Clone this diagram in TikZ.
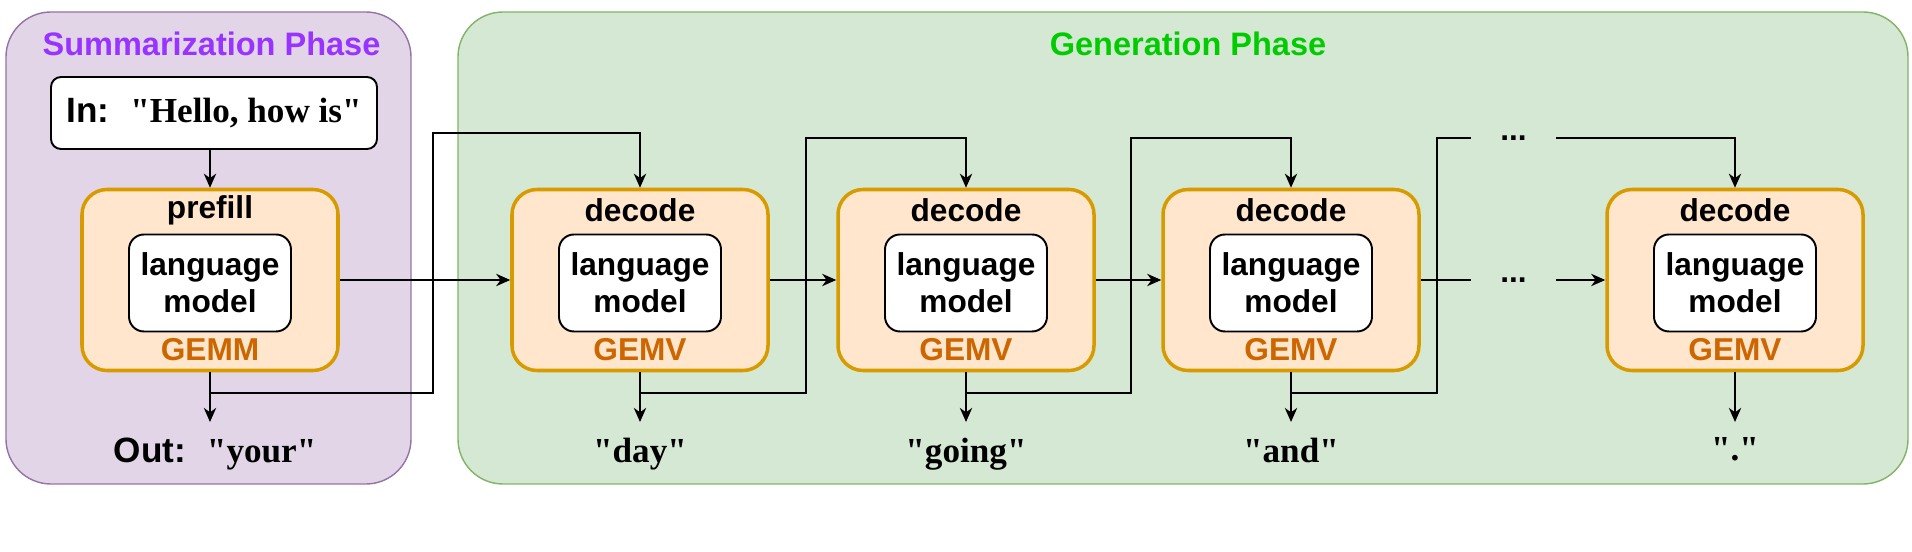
\documentclass[tikz,border=0pt]{standalone}
\usepackage{fontspec}
\setmainfont{Liberation Serif}[Ligatures=TeXOff]
\setsansfont{Liberation Sans}
\usetikzlibrary{arrows.meta}

\definecolor{sumfill}{HTML}{E1D5E7}
\definecolor{sumline}{HTML}{9673A6}
\definecolor{sumtitle}{HTML}{9933FF}
\definecolor{genfill}{HTML}{D5E8D4}
\definecolor{genline}{HTML}{82B366}
\definecolor{gentitle}{HTML}{00CC00}
\definecolor{boxfill}{HTML}{FFE6CC}
\definecolor{boxline}{HTML}{D79B00}
\definecolor{gemv}{HTML}{CC6600}

\begin{document}
\begin{tikzpicture}[->,>={Stealth[length=8pt,width=7pt,inset=2.5pt]},line width=1.1pt]
    \tikzstyle{phase}=[draw,rounded corners=0.9cm,line width=0.8pt,minimum height=9.44cm,inner sep=0pt]
    \tikzstyle{phase title}=[font=\sffamily\bfseries\fontsize{18.5}{22}\selectfont]
    \tikzstyle{stage box}=[draw=boxline,fill=boxfill,rounded corners=0.5cm,line width=2pt,minimum width=5.12cm,minimum height=3.62cm]
    \tikzstyle{stage text}=[font=\sffamily\bfseries\fontsize{18}{21}\selectfont,inner sep=0pt]
    \tikzstyle{model}=[stage text,draw,fill=white,rounded corners=0.3cm,line width=1.1pt,minimum width=3.24cm,minimum height=1.94cm,align=center]
    \tikzstyle{word}=[font=\bfseries\fontsize{20}{24}\selectfont,inner ysep=0.3cm,anchor=north]
    \tikzstyle{dots}=[stage text,minimum width=1.66cm]

    \useasboundingbox (0,0) rectangle (38.24,-11.04);

    % Draw the two phases
    \node[phase,fill=sumfill,draw=sumline,minimum width=8.1cm] (sum) at (4.17,-4.96) {};
    \node[phase,fill=genfill,draw=genline,minimum width=29cm] (gen) at (23.66,-4.96) {};
    \node[phase title,text=sumtitle] (sum-t) at (4.23,-0.88) {Summarization Phase};
    \node[phase title,text=gentitle] (gen-t) at (23.76,-0.88) {Generation Phase};

    % Input prompt and prefill step
    \node[draw,fill=white,rounded corners=0.2cm,minimum width=6.52cm,minimum height=1.44cm,
          font=\bfseries\fontsize{20}{24}\selectfont] (In) at (4.28,-2.26) {\textsf{In:}\hspace{0.6em}"Hello, how is"};
    \node[stage box] (P) at (4.2,-5.6) {};
    \node[stage text] (PT) at (4.2,-4.2) {prefill};
    \node[model] (PL) at (4.2,-5.66) {language\\model};
    \node[stage text,text=gemv] (PG) at (4.2,-7.0) {GEMM};
    \node[word] (O-0) at (4.3,-8.44) {\textsf{Out:}\hspace{0.6em}"your"};

    % Draw the decode steps
    \foreach \name / \x / \word in {1/12.8/day,2/19.32/going,3/25.82/and,4/34.7/.}
    {
        \node[stage box] (D-\name) at (\x,-5.6) {};
        \node[stage text] (DT-\name) at (\x,-4.2) {decode};
        \node[model] (L-\name) at (\x,-5.66) {language\\model};
        \node[stage text,text=gemv] (G-\name) at (\x,-7.0) {GEMV};
        \node[word] (O-\name) at (\x,-8.44) {"\word"};
        \coordinate (B-\name) at (\x,-7.86);
    }

    % Skipped steps
    \node[dots] (M-top) at (30.27,-2.76) {...};
    \node[dots] (M-mid) at (30.27,-5.6) {...};

    % Turning points of the feedback lines
    \coordinate (B-0) at (4.2,-7.86);
    \coordinate (T-0) at (8.66,-2.66);
    \coordinate (T-1) at (16.12,-2.76);
    \coordinate (T-2) at (22.62,-2.76);
    \coordinate (T-3) at (28.74,-2.76);

    % Connect the steps
    \draw (In.south -| P.north) -- (P.north);
    \draw (P.south) -- (O-0.north -| P.south);
    \draw (P.east) -- (D-1.west);
    \draw (D-1.east) -- (D-2.west);
    \draw (D-2.east) -- (D-3.west);
    \draw[-] (D-3.east) -- (M-mid.west);
    \draw (M-mid.east) -- (D-4.west);
    \foreach \name in {1,...,4}
        \draw (D-\name.south) -- (O-\name.north);

    % Feed every output token back as the next input
    \draw (B-0) -| (T-0) -| (D-1.north);
    \draw (B-1) -| (T-1) -| (D-2.north);
    \draw (B-2) -| (T-2) -| (D-3.north);
    \draw[-] (B-3) -| (T-3) -- (M-top.west);
    \draw (M-top.east) -| (D-4.north);
\end{tikzpicture}
\end{document}
